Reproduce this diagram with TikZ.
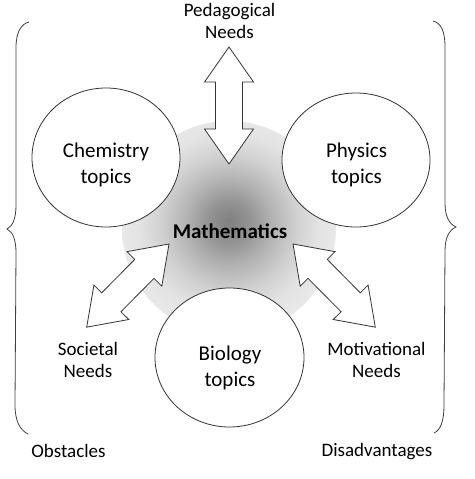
\documentclass[tikz,border=0pt]{standalone}
\usepackage{tikz}
\usetikzlibrary{shapes.geometric}
\usepackage{fontspec}
\setmainfont{Carlito}
\pgfdeclareradialshading{mathshade}{\pgfpoint{0bp}{1.5bp}}{color(0bp)=(black!50); color(5bp)=(black!42); color(10bp)=(black!30); color(16bp)=(black!18); color(21bp)=(black!11); color(25bp)=(black!9); color(50bp)=(black!9)}
\begin{document}
\begin{tikzpicture}[x=1pt,y=-1pt,
  topic/.style={ellipse, draw=black!80, line width=0.8pt, fill=white, minimum width=148pt, minimum height=139pt, inner sep=0pt},
  topictext/.style={align=center, font=\fontsize{21}{26}\selectfont, inner sep=0pt},
  needtext/.style={align=center, font=\fontsize{19}{22}\selectfont, inner sep=0pt},
  dblarrowshape/.style={draw=black!80, line width=0.8pt, fill=white, line join=miter},
  bracestyle/.style={draw=black!75, line width=0.8pt}]
\useasboundingbox (0,0) rectangle (474,479);
\node[circle, minimum size=214pt, inner sep=0pt, shading=mathshade] (mathdisc) at (229,228) {};
\node[topic] (chem) at (106,157.5) {};
\node[topic, minimum height=134pt] (phys) at (356,160) {};
\node[topic, minimum width=149pt] (bio) at (229.5,357.5) {};
\foreach \px/\py/\ang in {229/47/-90, 169/244/225.3, 293/244/-45.3}{
  \draw[dblarrowshape, shift={(\px,\py)}, rotate=\ang]
    (0,0) -- (35,24.5) -- (35,13.5) -- (82,13.5) -- (82,24.5) -- (117,0)
    -- (82,-24.5) -- (82,-13.5) -- (35,-13.5) -- (35,-24.5) -- cycle;
}
\draw[bracestyle] (29,22) .. controls (21,24) and (16,32) .. (16,48) -- (16,205)
  .. controls (16,218) and (13,226) .. (7,229) .. controls (13,232) and (16,240) .. (16,253)
  -- (15,405) .. controls (15,421) and (20,430) .. (28,434);
\draw[bracestyle] (433,21) .. controls (441,23) and (445,31) .. (445,47) -- (445,203)
  .. controls (445,216) and (449,224) .. (456,227) .. controls (449,230) and (445,238) .. (445,251)
  -- (444,405) .. controls (444,420) and (441,430) .. (434,433);
\node[topictext] (chemtext) at (106,165) {Chemistry\\topics};
\node[topictext] (phystext) at (356.5,165) {Physics\\topics};
\node[topictext] (biotext) at (230,367.5) {Biology\\topics};
\node[topictext, font=\fontsize{21}{25}\selectfont\bfseries] (math) at (230,231) {Mathematics};
\node[needtext] (ped) at (229.5,21) {Pedagogical\\Needs};
\node[needtext] (soc) at (88,359.5) {Societal\\Needs};
\node[needtext] (mot) at (376.5,359.5) {Motivational\\Needs};
\node[needtext] (obs) at (68.5,451) {Obstacles};
\node[needtext] (dis) at (377,452) {Disadvantages};
\end{tikzpicture}
\end{document}
